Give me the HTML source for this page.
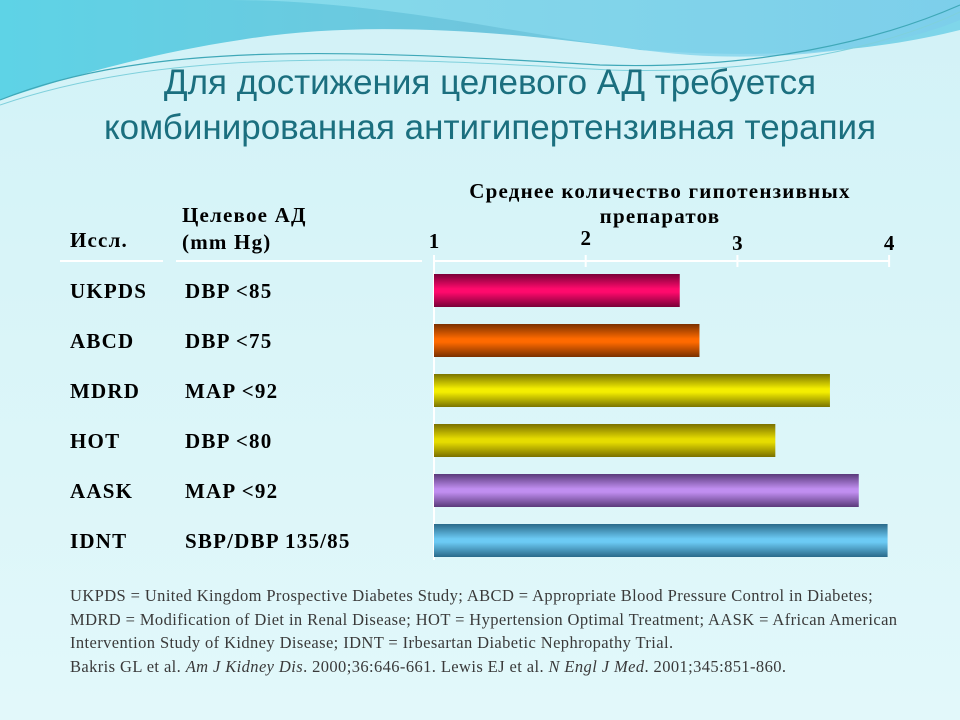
<!DOCTYPE html>
<html><head><meta charset="utf-8"><style>
body{margin:0;width:960px;height:720px;overflow:hidden;background:#dcf6f9;font-family:"Liberation Serif","Noto Serif CJK SC",serif;}
.t{position:absolute;white-space:nowrap;color:#000;font-weight:bold;font-size:21px;letter-spacing:1.2px;}
.fn{position:absolute;left:70px;top:584px;width:840px;font-size:16.5px;letter-spacing:0.4px;line-height:23.5px;color:#3a3a3a;}
</style></head><body>
<svg width="960" height="720" style="position:absolute;left:0;top:0">
<defs>
<linearGradient id="bg" x1="0" y1="0" x2="0" y2="1"><stop offset="0" stop-color="#d2f2f7"/><stop offset="1" stop-color="#e2f8fa"/></linearGradient>
<linearGradient id="w1" x1="0" y1="0" x2="1" y2="0"><stop offset="0" stop-color="#5ed3e6"/><stop offset="0.5" stop-color="#6fc6dd"/><stop offset="1" stop-color="#7fd6ea"/></linearGradient>
<linearGradient id="w2" x1="0" y1="0" x2="1" y2="0"><stop offset="0" stop-color="#8ee0ee"/><stop offset="1" stop-color="#7ccdeb"/></linearGradient>
</defs>
<rect width="960" height="720" fill="url(#bg)"/>
<path d="M0,0 H960 V30 C880,50 780,60 640,50 C500,30 360,20 240,40 C140,55 60,80 0,100 Z" fill="url(#w1)"/>
<path d="M230,0 H960 V20 C900,45 800,62 690,55 C560,45 400,0 230,0 Z" fill="url(#w2)" opacity="0.8"/>
<path d="M0,100 C150,40 350,50 600,65 C760,70 880,40 960,5" fill="none" stroke="#3fa8b8" stroke-width="1.2"/>
<path d="M0,105 C160,50 360,55 610,70 C770,75 890,45 960,12" fill="none" stroke="#7fd0dc" stroke-width="1"/>
</svg>
<div style="position:absolute;left:0;top:60px;width:980px;text-align:center;font-family:'Liberation Sans',sans-serif;font-size:35px;line-height:45px;color:#1b6f7f;">Для достижения целевого АД требуется<br>комбинированная антигипертензивная терапия</div>
<div class="t" style="left:420px;top:179px;width:480px;text-align:center;line-height:25px;">Среднее количество гипотензивных<br>препаратов</div>
<div class="t" style="left:70px;top:228px">Иссл.</div>
<div class="t" style="left:182px;top:202px;line-height:27px">Целевое АД<br>(mm Hg)</div>
<svg id="chart" width="960" height="720" style="position:absolute;left:0;top:0">
<defs>
<linearGradient id="g0" x1="0" y1="0" x2="0" y2="1"><stop offset="0" stop-color="#7a0038"/><stop offset="0.45" stop-color="#ff0a6c"/><stop offset="0.55" stop-color="#ff0a6c"/><stop offset="1" stop-color="#7a0038"/></linearGradient>
<linearGradient id="g1" x1="0" y1="0" x2="0" y2="1"><stop offset="0" stop-color="#7a3000"/><stop offset="0.45" stop-color="#ff6a00"/><stop offset="0.55" stop-color="#ff6a00"/><stop offset="1" stop-color="#7a3000"/></linearGradient>
<linearGradient id="g2" x1="0" y1="0" x2="0" y2="1"><stop offset="0" stop-color="#7a7400"/><stop offset="0.45" stop-color="#f4ee00"/><stop offset="0.55" stop-color="#f4ee00"/><stop offset="1" stop-color="#7a7400"/></linearGradient>
<linearGradient id="g3" x1="0" y1="0" x2="0" y2="1"><stop offset="0" stop-color="#7a7000"/><stop offset="0.45" stop-color="#e6dc00"/><stop offset="0.55" stop-color="#e6dc00"/><stop offset="1" stop-color="#7a7000"/></linearGradient>
<linearGradient id="g4" x1="0" y1="0" x2="0" y2="1"><stop offset="0" stop-color="#5a3a7a"/><stop offset="0.45" stop-color="#c08ef0"/><stop offset="0.55" stop-color="#c08ef0"/><stop offset="1" stop-color="#5a3a7a"/></linearGradient>
<linearGradient id="g5" x1="0" y1="0" x2="0" y2="1"><stop offset="0" stop-color="#2a6a8a"/><stop offset="0.45" stop-color="#6ccaf4"/><stop offset="0.55" stop-color="#6ccaf4"/><stop offset="1" stop-color="#2a6a8a"/></linearGradient>
</defs>
</svg>
<div class="fn">UKPDS = United Kingdom Prospective Diabetes Study; ABCD = Appropriate Blood Pressure Control in Diabetes; MDRD = Modification of Diet in Renal Disease; HOT = Hypertension Optimal Treatment; AASK = African American Intervention Study of Kidney Disease; IDNT = Irbesartan Diabetic Nephropathy Trial.<br>Bakris GL et al. <i>Am J Kidney Dis</i>. 2000;36:646-661. Lewis EJ et al. <i>N Engl J Med</i>. 2001;345:851-860.</div>
<script>
const studies=["UKPDS","ABCD","MDRD","HOT","AASK","IDNT"];
const targets=["DBP <85","DBP <75","MAP <92","DBP <80","MAP <92","SBP/DBP 135/85"];
const values=[2.62,2.75,3.61,3.25,3.8,3.99];
const ticks=[1,2,3,4];
const NS="http://www.w3.org/2000/svg";
const svg=document.getElementById("chart");
const x=v=>434+(v-1)*151.7;
const y=i=>274+i*50;
function mk(t,a){const e=document.createElementNS(NS,t);for(const k in a)e.setAttribute(k,a[k]);svg.appendChild(e);return e;}
let l=mk("line",{x1:60,y1:261,x2:163,y2:261,stroke:"#fff","stroke-width":2});


l=mk("line",{x1:176,y1:261,x2:422,y2:261,stroke:"#fff","stroke-width":2});


l=mk("line",{x1:x(1),y1:261,x2:x(4),y2:261,stroke:"#fff","stroke-width":2});


l=mk("line",{x1:x(1),y1:261,x2:x(1),y2:560,stroke:"#fff","stroke-width":2});


ticks.forEach((t,i)=>{
 const tk=mk("line",{x1:x(t),y1:255,x2:x(t),y2:267,stroke:"#fff","stroke-width":2});
 
 
 const tx=mk("text",{x:x(t),y:248-(i==1?3:0)+(i>=2?2:0),"text-anchor":"middle","font-size":21,"font-weight":"bold","font-family":"Liberation Serif, serif"});
 tx.textContent=t;
 
 
});
values.forEach((v,i)=>{
 const r=mk("rect",{x:x(1),y:y(i),width:x(v)-x(1),height:33,fill:"url(#g"+i+")"});
 
 
 const s=mk("text",{x:70,y:y(i)+24,"font-size":21,"letter-spacing":1.2,"font-weight":"bold","font-family":"Liberation Serif, serif"});
 s.textContent=studies[i];
 
 
 const tg=mk("text",{x:185,y:y(i)+24,"font-size":21,"letter-spacing":1.2,"font-weight":"bold","font-family":"Liberation Serif, serif"});
 tg.textContent=targets[i];
 
 
});
</script>
</body></html>
